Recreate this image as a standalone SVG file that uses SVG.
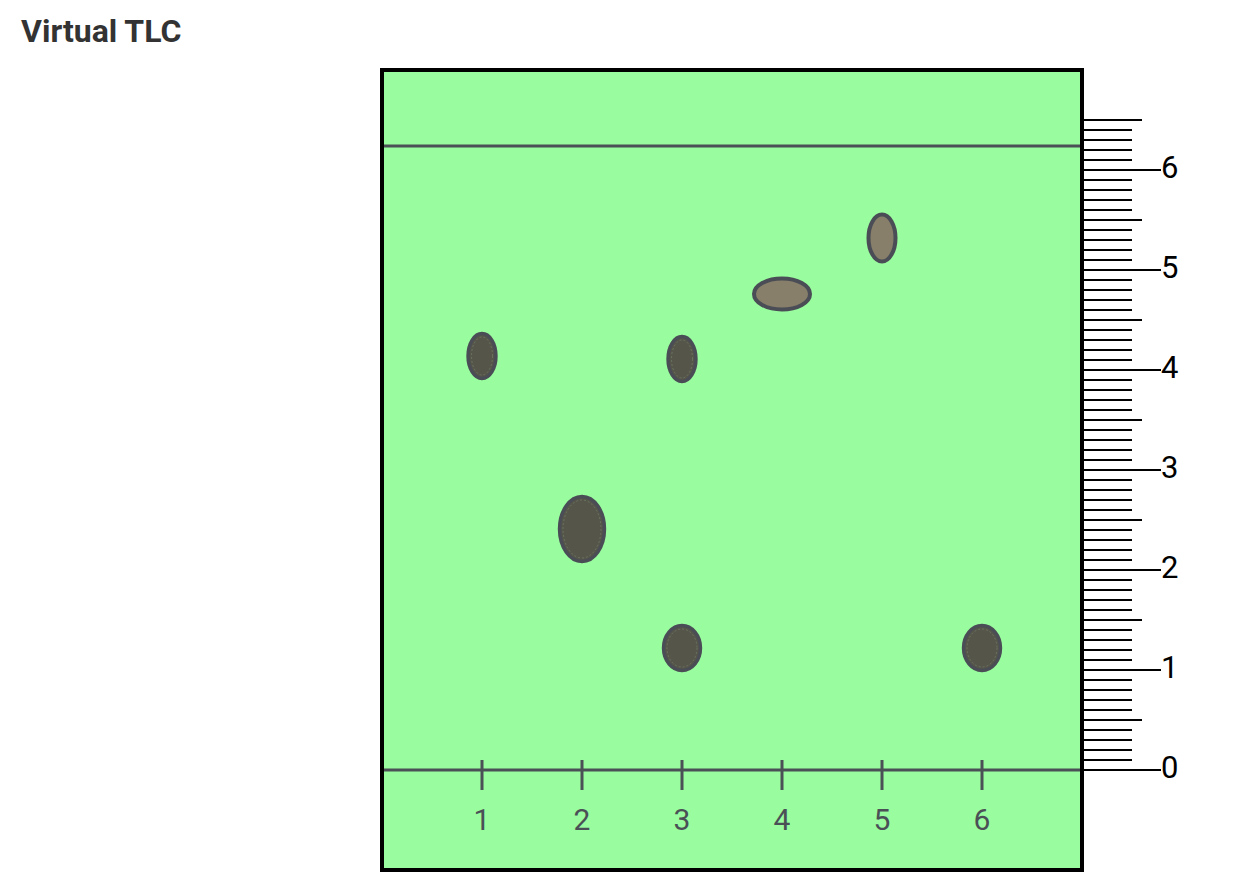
<svg xmlns="http://www.w3.org/2000/svg" width="1240" height="888" viewBox="0 0 1240 888">
<style>
.title{font-family:Roboto,"Liberation Sans",sans-serif;font-weight:bold;font-size:32px;fill:#333333}
.plate{fill:#99fc9e;stroke:#000;stroke-width:4}
.line{stroke:#4a5056;stroke-width:3;fill:none}
.lane{font-family:Roboto,"Liberation Sans",sans-serif;font-size:30px;fill:#4a5056;text-anchor:middle}
.rl{font-family:Roboto,"Liberation Sans",sans-serif;font-size:31px;fill:#000}
.tick{stroke:#000;stroke-width:1.8}
.dark{fill:#56554a;stroke:#4a4d55;stroke-width:3.4}
.ring{fill:none;stroke:#7f9a78;stroke-width:0.6;stroke-dasharray:2 2;opacity:0.7}
.light{fill:#877f6a;stroke:#4a4d55;stroke-width:4}
</style>
<rect width="1240" height="888" fill="#fff"/>
<text class="title" x="21" y="42">Virtual TLC</text>
<g id="plate">
<rect class="plate" x="382" y="70" width="700" height="800"/>
<line class="line" x1="384" y1="146" x2="1080" y2="146"/>
<line class="line" x1="384" y1="770" x2="1080" y2="770"/>
</g>
<g id="lanes">
<g class="line">
<line x1="482" y1="760" x2="482" y2="790"/>
<line x1="582" y1="760" x2="582" y2="790"/>
<line x1="682" y1="760" x2="682" y2="790"/>
<line x1="782" y1="760" x2="782" y2="790"/>
<line x1="882" y1="760" x2="882" y2="790"/>
<line x1="982" y1="760" x2="982" y2="790"/>
</g>
<text class="lane" x="482" y="830">1</text>
<text class="lane" x="582" y="830">2</text>
<text class="lane" x="682" y="830">3</text>
<text class="lane" x="782" y="830">4</text>
<text class="lane" x="882" y="830">5</text>
<text class="lane" x="982" y="830">6</text>
</g>
<g id="spot1"><ellipse class="dark" cx="482" cy="356" rx="14" ry="22.5"/><ellipse class="ring" cx="482" cy="356" rx="10.5" ry="19"/></g>
<g id="spot2"><ellipse class="dark" cx="582" cy="529" rx="22.5" ry="32.5"/><ellipse class="ring" cx="582" cy="529" rx="19" ry="29"/></g>
<g id="spot3a"><ellipse class="dark" cx="682" cy="359" rx="14" ry="22.5"/><ellipse class="ring" cx="682" cy="359" rx="10.5" ry="19"/></g>
<g id="spot3b"><ellipse class="dark" cx="682" cy="648" rx="18.5" ry="22.5"/><ellipse class="ring" cx="682" cy="648" rx="15" ry="19"/></g>
<g id="spot4"><ellipse class="light" cx="782" cy="294" rx="28" ry="15.5"/></g>
<g id="spot5"><ellipse class="light" cx="882" cy="238" rx="13.5" ry="23.5"/></g>
<g id="spot6"><ellipse class="dark" cx="982" cy="648" rx="18.5" ry="22.5"/><ellipse class="ring" cx="982" cy="648" rx="15" ry="19"/></g>
<g id="ruler">
<path class="tick" d="M1084 120H1142M1084 130H1132M1084 140H1132M1084 150H1132M1084 160H1132M1084 170H1161M1084 180H1132M1084 190H1132M1084 200H1132M1084 210H1132M1084 220H1142M1084 230H1132M1084 240H1132M1084 250H1132M1084 260H1132M1084 270H1161M1084 280H1132M1084 290H1132M1084 300H1132M1084 310H1132M1084 320H1142M1084 330H1132M1084 340H1132M1084 350H1132M1084 360H1132M1084 370H1161M1084 380H1132M1084 390H1132M1084 400H1132M1084 410H1132M1084 420H1142M1084 430H1132M1084 440H1132M1084 450H1132M1084 460H1132M1084 470H1161M1084 480H1132M1084 490H1132M1084 500H1132M1084 510H1132M1084 520H1142M1084 530H1132M1084 540H1132M1084 550H1132M1084 560H1132M1084 570H1161M1084 580H1132M1084 590H1132M1084 600H1132M1084 610H1132M1084 620H1142M1084 630H1132M1084 640H1132M1084 650H1132M1084 660H1132M1084 670H1161M1084 680H1132M1084 690H1132M1084 700H1132M1084 710H1132M1084 720H1142M1084 730H1132M1084 740H1132M1084 750H1132M1084 760H1132M1084 770H1161"/>
<text class="rl" x="1161" y="178">6</text>
<text class="rl" x="1161" y="278">5</text>
<text class="rl" x="1161" y="378">4</text>
<text class="rl" x="1161" y="478">3</text>
<text class="rl" x="1161" y="578">2</text>
<text class="rl" x="1161" y="678">1</text>
<text class="rl" x="1161" y="778">0</text>
</g>
</svg>
